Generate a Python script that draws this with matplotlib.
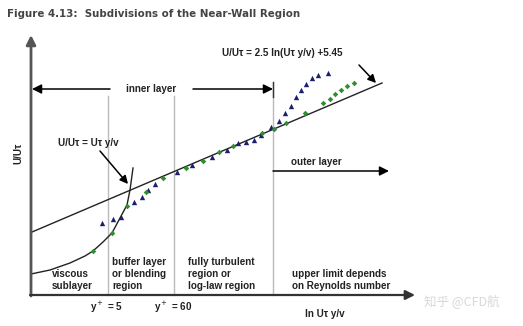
import matplotlib.pyplot as plt

tri_x = [102, 113, 121, 134, 142, 148, 155, 177, 192, 212, 227, 238, 246, 254,
         261, 271, 279, 285, 291, 296, 301, 306, 312, 318, 328]
tri_y = [223, 219, 217, 202, 197, 190, 184, 172, 165, 157, 150, 143, 142, 140,
         135, 127, 121, 113, 106, 97, 90, 84, 78, 75, 73]

dia_x = [93, 112, 127, 146, 163, 186, 203, 219, 233, 262, 274, 286, 305, 323,
         330, 335, 341, 347, 354]
dia_y = [251, 233, 206, 192, 178, 168, 161, 152, 146, 133, 129, 123, 113, 103,
         99, 94, 90, 86, 83]

# viscous sublayer curve  U/Ut = Ut y/v
visc_x = [31, 50, 70, 85, 93, 103, 112, 120, 127, 130, 133]
visc_y = [274, 270, 263, 256, 251, 242, 233, 218, 205, 190, 168]

# log-law line  U/Ut = 2.5 ln(Ut y/v) + 5.45
log_x = [32, 382]
log_y = [232, 83]

# region boundaries
bound_x = [108, 174, 273]
bound_labels = ['y$^+$ = 5', 'y$^+$ = 60']

region_text = ['viscous\nsublayer', 'buffer layer\nor blending\nregion',
               'fully turbulent\nregion or\nlog-law region',
               'upper limit depends\non Reynolds number']

fig = plt.figure(figsize=(5.23, 3.26), dpi=100)
ax = fig.add_axes([0, 0, 1, 1])
ax.set_xlim(0, 523)
ax.set_ylim(326, 0)
ax.axis('off')

lab = dict(family='Liberation Sans', fontweight='bold', fontsize=7.1, color='#222222')
arr = dict(arrowstyle='-|>', color='black', lw=1.1, mutation_scale=14, shrinkA=0, shrinkB=0)

# title
ax.text(7, 14, 'Figure 4.13:  Subdivisions of the Near-Wall Region', family='DejaVu Sans',
        fontweight='bold', fontsize=7.4, color='#444444', va='center', ha='left')

# boundaries
for bx in bound_x[:2]:
    ax.plot([bx, bx], [96, 295], color='#bbbbbb', lw=1)
ax.plot([bound_x[2], bound_x[2]], [82, 295], color='#bbbbbb', lw=1)
ax.plot([bound_x[2], bound_x[2]], [82, 97], color='#333333', lw=1)

# axes with arrows
ax.annotate('', xy=(31, 35), xytext=(31, 296), arrowprops=dict(arr, color='#555555', lw=2))
ax.annotate('', xy=(415, 295), xytext=(30, 295), arrowprops=dict(arr, color='#333333', lw=1.6))

# curves
ax.plot(log_x, log_y, color='#222222', lw=1)
ax.plot(visc_x, visc_y, color='#222222', lw=1)

# data
ax.scatter(tri_x, tri_y, marker='^', s=15, color='#1c1f6b', linewidths=0, zorder=3)
ax.scatter(dia_x, dia_y, marker='D', s=8, color='#2f8f2f', linewidths=0, zorder=3)

# inner / outer layer arrows
ax.annotate('', xy=(32, 89), xytext=(110, 89), arrowprops=arr)
ax.annotate('', xy=(273, 89), xytext=(193, 89), arrowprops=arr)
ax.text(151, 89, 'inner layer', ha='center', va='center', **lab)
ax.annotate('', xy=(389, 171), xytext=(273, 171), arrowprops=arr)
ax.text(316, 162, 'outer layer', ha='center', va='center', **lab)

# equations
ax.text(282, 53, 'U/U\u03c4 = 2.5 ln(U\u03c4 y/v) +5.45', ha='center', va='center', **lab)
ax.annotate('', xy=(376, 83), xytext=(359, 65), arrowprops=dict(arr, mutation_scale=12))
ax.text(88, 143, 'U/U\u03c4 = U\u03c4 y/v', ha='center', va='center', **lab)
ax.annotate('', xy=(128, 184), xytext=(100, 151), arrowprops=dict(arr, mutation_scale=12))

# region labels
ax.text(52, 280, region_text[0], ha='left', va='center', linespacing=1.3, **lab)
ax.text(112, 274, region_text[1], ha='left', va='center', linespacing=1.3, **lab)
ax.text(188, 274, region_text[2], ha='left', va='center', linespacing=1.3, **lab)
ax.text(292, 280, region_text[3], ha='left', va='center', linespacing=1.3, **lab)

# axis labels
ax.text(106, 307, bound_labels[0], ha='center', va='center', **lab)
ax.text(173, 307, bound_labels[1], ha='center', va='center', **lab)
ax.text(18, 153, 'U/U\u03c4', rotation=90, ha='center', va='center', **lab)
ax.text(325, 314, 'ln U\u03c4 y/v', ha='center', va='center', **lab)

# watermark
ax.text(462, 302, '知乎 @CFD航', ha='center', va='center', fontsize=9,
        family=['Noto Sans CJK SC', 'DejaVu Sans'], color='#d8d8d8')

fig.savefig('out.png', dpi=100)
